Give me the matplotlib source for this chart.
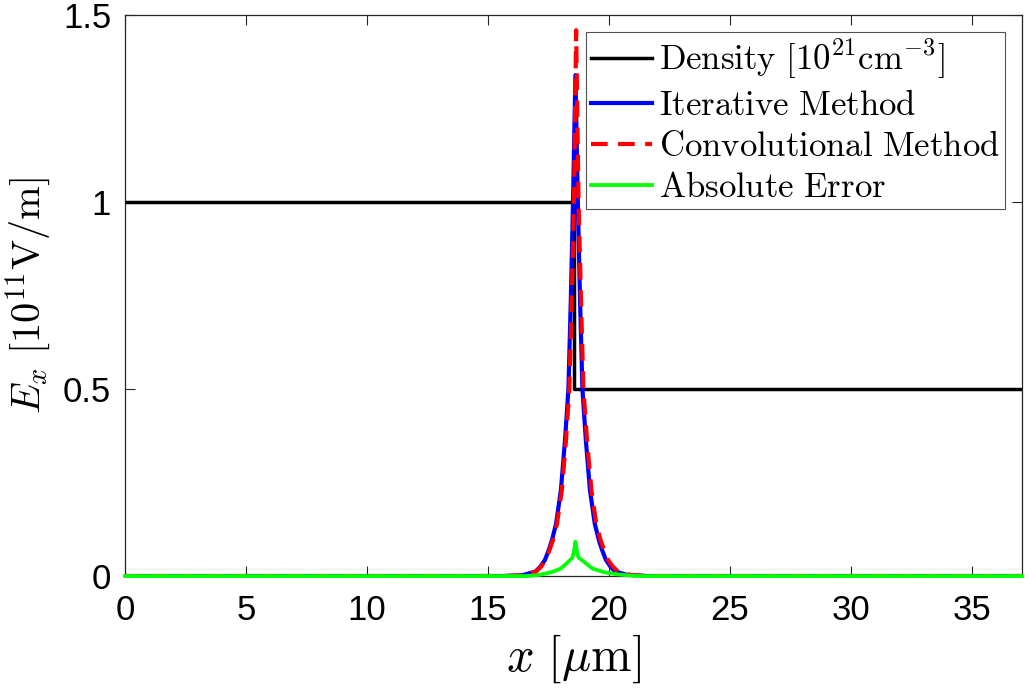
import matplotlib
matplotlib.use("Agg")
import matplotlib.pyplot as plt

# ---------------- data ----------------
density_x = [0.0, 18.55, 18.55, 37.08]
density_y = [1.0, 1.0, 0.5, 0.5]

iter_x = [0, 15.62, 16.42, 16.97, 17.17, 17.36, 17.52, 17.65, 17.82, 18.02, 18.19,
          18.33, 18.43, 18.52, 18.62, 18.72, 18.81, 18.91, 19.05, 19.22, 19.42,
          19.59, 19.72, 19.88, 20.07, 20.27, 20.82, 21.62, 37.08]
iter_y = [0, 0, 0.002, 0.012, 0.025, 0.043, 0.07, 0.096, 0.14, 0.23, 0.364,
          0.5, 0.74, 1.0, 1.34, 1.0, 0.74, 0.5, 0.364, 0.23, 0.14,
          0.096, 0.07, 0.043, 0.025, 0.012, 0.002, 0, 0]

conv_x = [0, 15.7, 16.47, 17.0, 17.2, 17.39, 17.55, 17.69, 17.86, 18.06, 18.23,
          18.37, 18.47, 18.56, 18.65, 18.75, 18.85, 18.95, 19.1, 19.28, 19.48,
          19.66, 19.8, 19.97, 20.17, 20.38, 20.95, 21.8, 37.08]
conv_y = [0, 0, 0.002, 0.012, 0.025, 0.043, 0.07, 0.096, 0.14, 0.23, 0.364,
          0.5, 0.74, 1.0, 1.46, 1.0, 0.74, 0.5, 0.364, 0.23, 0.14,
          0.096, 0.07, 0.043, 0.025, 0.012, 0.002, 0, 0]

err_x = [0, 16.62, 17.12, 17.62, 18.02, 18.36, 18.50, 18.57, 18.62, 18.67, 18.74,
         18.88, 19.32, 19.82, 20.42, 21.12, 37.08]
err_y = [0, 0, 0.003, 0.01, 0.02, 0.04, 0.05, 0.07, 0.092, 0.07, 0.05,
         0.043, 0.02, 0.01, 0.004, 0, 0]

xticks = [0, 5, 10, 15, 20, 25, 30, 35]
xtick_labels = ["0", "5", "10", "15", "20", "25", "30", "35"]
yticks = [0, 0.5, 1, 1.5]
ytick_labels = ["0", "0.5", "1", "1.5"]

labels = [r"$\mathrm{Density\ [10^{21}cm^{-3}]}$",
          r"$\mathrm{Iterative\ Method}$",
          r"$\mathrm{Convolutional\ Method}$",
          r"$\mathrm{Absolute\ Error}$"]

# ---------------- style ----------------
plt.rcParams["mathtext.fontset"] = "cm"
tick_font = "Liberation Sans"
spine_col = "#262626"

fig = plt.figure(figsize=(10.25, 6.94), dpi=100, facecolor="white")
ax = fig.add_axes([0.122, 0.170, 0.875, 0.808])

ax.plot(density_x, density_y, color="black", lw=2.5, label=labels[0], zorder=3)
ax.plot(iter_x, iter_y, color="#0000ff", lw=3.0, label=labels[1], zorder=4)
ax.plot(conv_x, conv_y, color="#ff0000", lw=3.0, ls=(0, (4.0, 2.5)),
        label=labels[2], zorder=5)
ax.plot(err_x, err_y, color="#00ff00", lw=2.7, label=labels[3], zorder=6,
        clip_on=False)

ax.set_xlim(0, 37.08)
ax.set_ylim(0, 1.5)
ax.set_xticks(xticks)
ax.set_xticklabels(xtick_labels, fontfamily=tick_font, fontsize=25)
ax.set_yticks(yticks)
ax.set_yticklabels(ytick_labels, fontfamily=tick_font, fontsize=25)
ax.tick_params(direction="in", length=7, width=0.8, color=spine_col,
               top=True, right=True)
ax.tick_params(axis="x", pad=13)
ax.tick_params(axis="y", pad=10)

for s in ax.spines.values():
    s.set_linewidth(0.9)
    s.set_color(spine_col)

ax.set_xlabel(r"$x\ [\mu\mathrm{m}]$", fontsize=35, labelpad=4)
ax.set_ylabel(r"$E_x\ [10^{11}\mathrm{V/m}]$", fontsize=29, labelpad=7)

leg = ax.legend(loc="upper right", bbox_to_anchor=(0.981, 0.970),
                fontsize=25, frameon=True, fancybox=False, handlelength=1.75,
                handletextpad=0.2, labelspacing=0.2, borderpad=0.15,
                borderaxespad=0)
leg.get_frame().set_edgecolor(spine_col)
leg.get_frame().set_linewidth(0.8)
leg.set_zorder(10)

fig.savefig("out.png", dpi=100, facecolor="white")
